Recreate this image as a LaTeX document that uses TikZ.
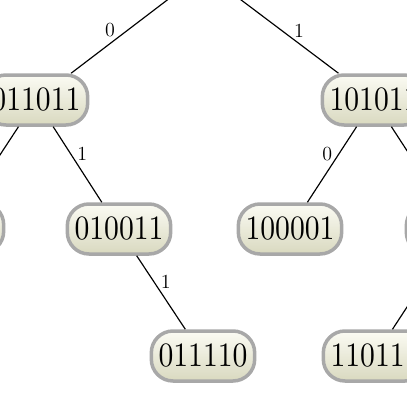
\documentclass[tikz,border=0pt]{standalone}
\usepackage{fontspec}
\usepackage{graphicx}
\usetikzlibrary{positioning}

\newfontfamily\bitfont{lmroman10-regular}[Extension=.otf]
\newcommand{\bits}[1]{\scalebox{1}[1.15]{#1}}

\newlength{\du}
\setlength{\du}{0.6pt}

\definecolor{bitline}{rgb}{0.660000, 0.660000, 0.660000}
\definecolor{bittop}{rgb}{0.985000, 0.985000, 0.955000}
\definecolor{bitbottom}{rgb}{0.850000, 0.850000, 0.750000}

\tikzset{
  bitnode/.style={rectangle, rounded corners=13pt, draw=bitline, line width=2.1pt,
    top color=bittop, bottom color=bitbottom, minimum width=62pt, minimum height=30pt,
    inner sep=0pt, font=\bitfont\fontsize{17.8}{20}\selectfont},
  bitedge/.style={draw=black, line width=0.7pt},
  bitlabel/.style={font=\fontsize{12}{14}\selectfont, inner sep=0.5pt}
}

\begin{document}
\begin{tikzpicture}
\pgftransformxscale{1.000000}
\pgftransformyscale{-1.000000}
\useasboundingbox (0\du,0\du) rectangle (407\du,407\du);
% root (out of view)
\coordinate (root) at (204\du,-28\du);
% level 1
\node[bitnode] (n011011) at (36\du,100\du){\bits{011011}};
\node[bitnode] (n101011) at (374\du,100\du){\bits{101011}};
% level 2
\node[bitnode] (n001101) at (-48\du,228\du){\bits{001101}};
\node[bitnode] (n010011) at (119\du,229\du){\bits{010011}};
\node[bitnode] (n100001) at (290\du,229\du){\bits{100001}};
\node[bitnode] (n110101) at (458\du,229\du){\bits{110101}};
% level 3
\node[bitnode] (n011110) at (203\du,356\du){\bits{011110}};
\node[bitnode] (n110111) at (375\du,356\du){\bits{110111}};
% edges
\draw[bitedge] (root)--(n011011) node[bitlabel, pos=0.66, anchor=south east]{0};
\draw[bitedge] (root)--(n101011) node[bitlabel, pos=0.66, anchor=south west]{1};
\draw[bitedge] (n011011)--(n001101);
\draw[bitedge] (n011011)--(n010011) node[bitlabel, pos=0.47, anchor=south west]{1};
\draw[bitedge] (n101011)--(n100001) node[bitlabel, pos=0.47, anchor=south east]{0};
\draw[bitedge] (n101011)--(n110101);
\draw[bitedge] (n010011)--(n011110) node[bitlabel, pos=0.47, anchor=south west]{1};
\draw[bitedge] (n110101)--(n110111);
\end{tikzpicture}
\end{document}
